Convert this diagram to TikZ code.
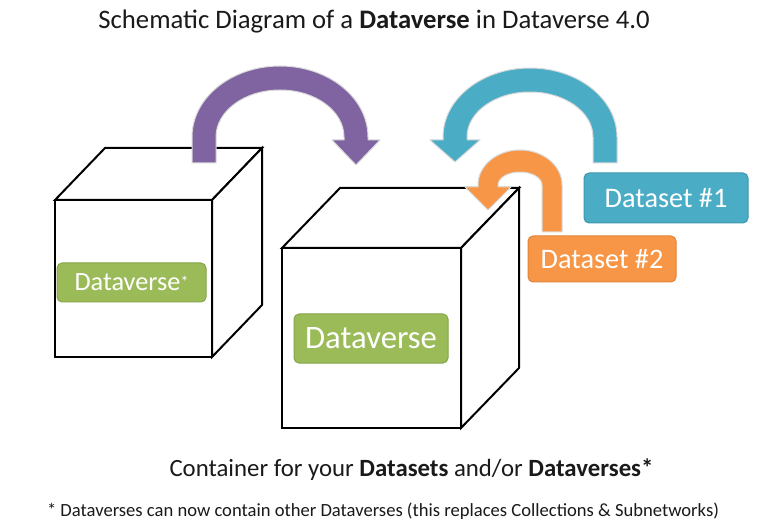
\documentclass[tikz,border=0pt]{standalone}
\usepackage{fontspec}
\setmainfont{Carlito}
\definecolor{dvgreen}{HTML}{9BBB59}
\definecolor{dvgreenB}{HTML}{86A64A}
\definecolor{dvblue}{HTML}{4BACC6}
\definecolor{dvblueB}{HTML}{3F97AE}
\definecolor{dvorange}{HTML}{F79646}
\definecolor{dvorangeB}{HTML}{E0843A}
\definecolor{dvpurple}{HTML}{8064A2}
\definecolor{rim}{HTML}{D9D9D9}
\definecolor{txt}{HTML}{1A1A1A}
\begin{document}
\begin{tikzpicture}[x=1pt,y=-1pt,
  cubeline/.style={draw=black,line width=2pt,fill=white,line join=miter},
  uarrow/.style={line width=1pt,draw=rim,line join=round},
  lbl/.style={rectangle,rounded corners=5pt,line width=1pt,inner sep=0pt,text=white},
  caption/.style={text=txt,inner sep=0pt}]
\useasboundingbox[fill=white] (0,0) rectangle (779,529);

% title
\node[caption,font=\fontsize{26.7}{30}\selectfont] (title) at (374,22)
  {Schematic Diagram of a \textbf{Dataverse} in Dataverse 4.0};

% left cube
\coordinate (l1) at (55,200); \coordinate (l2) at (212,200);
\coordinate (l3) at (212,357); \coordinate (l4) at (55,357);
\coordinate (l5) at (105,148); \coordinate (l6) at (262,148);
\coordinate (l7) at (262,305);
\path[cubeline] (l1) -- (l2) -- (l3) -- (l4) -- cycle;
\path[cubeline] (l1) -- (l5) -- (l6) -- (l2) -- cycle;
\path[cubeline] (l2) -- (l6) -- (l7) -- (l3) -- cycle;

% right cube
\coordinate (r1) at (282,248); \coordinate (r2) at (461,248);
\coordinate (r3) at (461,428); \coordinate (r4) at (282,428);
\coordinate (r5) at (340,188); \coordinate (r6) at (519,188);
\coordinate (r7) at (519,368);
\path[cubeline] (r1) -- (r2) -- (r3) -- (r4) -- cycle;
\path[cubeline] (r1) -- (r5) -- (r6) -- (r2) -- cycle;
\path[cubeline] (r2) -- (r6) -- (r7) -- (r3) -- cycle;

% purple U-turn arrow
\path[uarrow,fill=dvpurple] (192,163) -- (192,137)
  arc[start angle=180,end angle=360,x radius=88,y radius=71]
  -- (368,140) -- (380,140) -- (356,165) -- (332,140) -- (344,140) -- (344,137)
  arc[start angle=360,end angle=180,x radius=64,y radius=47]
  -- (216,163) -- cycle;

% blue U-turn arrow
\path[uarrow,fill=dvblue] (617,163) -- (617,137)
  arc[start angle=0,end angle=-180,x radius=87,y radius=69]
  -- (443,140) -- (430,140) -- (455,162) -- (480,140) -- (467,140) -- (467,137)
  arc[start angle=180,end angle=360,x radius=63,y radius=45]
  -- (593,163) -- cycle;

% orange U-turn arrow
\path[uarrow,fill=dvorange] (562,232) -- (562,185)
  arc[start angle=0,end angle=-180,x radius=42,y radius=35]
  -- (478,187) -- (465,187) -- (488,210) -- (511,187) -- (498,187) -- (498,185)
  arc[start angle=180,end angle=360,x radius=22,y radius=13]
  -- (542,232) -- cycle;

% labels
\node[lbl,fill=dvgreen,draw=dvgreenB,minimum width=149pt,minimum height=39pt,
  font=\fontsize{26.3}{29}\selectfont] (dvsmall) at (131.5,282.5)
  {Dataverse{\fontsize{16}{16}\selectfont\raisebox{3pt}{*}}};
\node[lbl,fill=dvgreen,draw=dvgreenB,minimum width=154pt,minimum height=49pt,
  font=\fontsize{32.7}{36}\selectfont] (dvbig) at (371,338.5) {Dataverse};
\node[lbl,fill=dvblue,draw=dvblueB,minimum width=164pt,minimum height=50pt,
  font=\fontsize{28.3}{31}\selectfont] (ds1) at (666,198) {Dataset \#1};
\node[lbl,fill=dvorange,draw=dvorangeB,minimum width=148pt,minimum height=46pt,
  font=\fontsize{28.3}{31}\selectfont] (ds2) at (602,259) {Dataset \#2};

% captions
\node[caption,font=\fontsize{24.8}{28}\selectfont] (cont) at (411.5,470)
  {Container for your \textbf{Datasets} and/or \textbf{Dataverses*}};
\node[caption,font=\fontsize{18.6}{21}\selectfont] (foot) at (383,511)
  {* Dataverses can now contain other Dataverses (this replaces Collections \& Subnetworks)};
\end{tikzpicture}
\end{document}
